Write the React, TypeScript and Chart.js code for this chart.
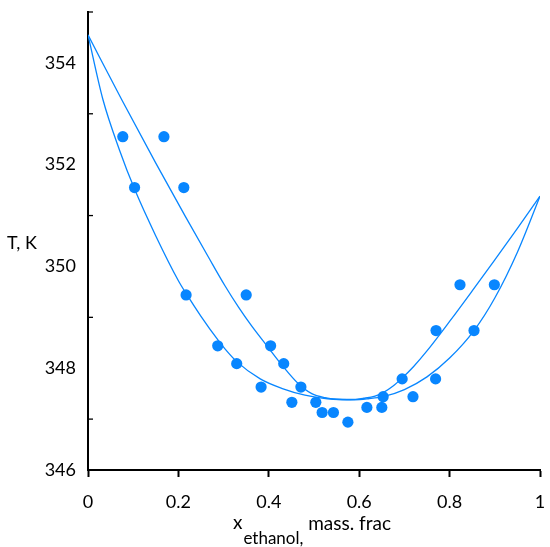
import React, { useEffect, useRef } from "react";
import { Chart, registerables } from "chart.js";

Chart.register(...registerables);

// Experimental points (mass fraction of ethanol, temperature in K)
const pointX = [
  0.077, 0.168, 0.103, 0.212, 0.217, 0.350, 0.287, 0.404, 0.329, 0.433,
  0.383, 0.471, 0.451, 0.504, 0.518, 0.543, 0.575, 0.617, 0.650, 0.653,
  0.719, 0.695, 0.769, 0.770, 0.854, 0.823, 0.899,
];
const pointT = [
  352.55, 352.55, 351.55, 351.55, 349.44, 349.44, 348.44, 348.44, 348.09, 348.09,
  347.63, 347.63, 347.33, 347.33, 347.13, 347.13, 346.94, 347.23, 347.23, 347.44,
  347.44, 347.79, 347.79, 348.74, 348.74, 349.64, 349.64,
];

// Lower-left curve
const curveAX = [
  0, 0.033, 0.07, 0.103, 0.15, 0.2, 0.217, 0.25, 0.287, 0.303, 0.329, 0.381,
  0.43, 0.48, 0.53, 0.59, 0.62, 0.653, 0.70, 0.75, 0.80, 0.854, 0.90, 0.95, 1,
];
const curveAT = [
  354.55, 353.28, 352.28, 351.52, 350.6, 349.72, 349.47, 349.02, 348.56,
  348.38, 348.13, 347.79, 347.6, 347.47, 347.4, 347.38, 347.4, 347.44,
  347.58, 347.83, 348.2, 348.74, 349.38, 350.28, 351.38,
];

// Upper-left curve
const curveBX = [
  0, 0.075, 0.15, 0.215, 0.266, 0.303, 0.333, 0.362, 0.395, 0.432, 0.465,
  0.495, 0.524, 0.55, 0.58, 0.61, 0.635, 0.653, 0.675, 0.694, 0.72, 0.749,
  0.80, 0.85, 0.90, 0.95, 1,
];
const curveBT = [
  354.55, 353.27, 352.03, 350.99, 350.19, 349.62, 349.2, 348.83, 348.45,
  348.03, 347.7, 347.5, 347.42, 347.39, 347.385, 347.41, 347.45, 347.52,
  347.65, 347.8, 348.03, 348.33, 348.92, 349.52, 350.13, 350.75, 351.38,
];

const BLUE = "rgb(8,134,255)";
const FONT = "Lato";

const decorPlugin = {
  id: "decor",
  afterDraw(chart: any) {
    const { ctx, chartArea, scales } = chart;
    const y = scales.y;
    ctx.save();
    // inward minor ticks on the y axis (odd values)
    ctx.strokeStyle = "#000";
    ctx.lineWidth = 1.3;
    y.ticks.forEach((t: any) => {
      if (Math.round(t.value) % 2 !== 0) {
        const py = y.getPixelForValue(t.value);
        ctx.beginPath();
        ctx.moveTo(chartArea.left, py);
        ctx.lineTo(chartArea.left + 5, py);
        ctx.stroke();
      }
    });
    // y title
    ctx.fillStyle = "#000";
    ctx.textBaseline = "middle";
    ctx.textAlign = "left";
    ctx.font = `18px ${FONT}`;
    ctx.fillText("T, K", 7, (chartArea.top + chartArea.bottom) / 2 + 2);
    // x title with subscript
    const big = `19px ${FONT}`;
    const small = `17px ${FONT}`;
    ctx.textBaseline = "alphabetic";
    ctx.font = big;
    const w1 = ctx.measureText("x").width;
    const w3 = ctx.measureText(" mass. frac").width;
    ctx.font = small;
    const w2 = ctx.measureText("ethanol,").width;
    const total = w1 + 1 + w2 + w3;
    let sx = (chartArea.left + chartArea.right) / 2 - 2 - total / 2;
    ctx.font = big;
    ctx.fillText("x", sx, 529);
    sx += w1 + 1;
    ctx.font = small;
    ctx.fillText("ethanol,", sx, 544);
    sx += w2;
    ctx.font = big;
    ctx.fillText(" mass. frac", sx, 530);
    ctx.restore();
  },
};

export default function App() {
  const ref = useRef<HTMLCanvasElement | null>(null);
  useEffect(() => {
    if (!ref.current) return;
    const toXY = (xs: number[], ys: number[]) => xs.map((x, i) => ({ x, y: ys[i] }));
    const chart = new Chart(ref.current, {
      type: "scatter",
      data: {
        datasets: [
          {
            type: "line",
            data: toXY(curveAX, curveAT),
            borderColor: BLUE,
            borderWidth: 1.3,
            pointRadius: 0,
            fill: false,
            cubicInterpolationMode: "monotone",
          } as any,
          {
            type: "line",
            data: toXY(curveBX, curveBT),
            borderColor: BLUE,
            borderWidth: 1.3,
            pointRadius: 0,
            fill: false,
            cubicInterpolationMode: "monotone",
          } as any,
          {
            type: "scatter",
            data: toXY(pointX, pointT),
            backgroundColor: BLUE,
            borderWidth: 0,
            pointRadius: 5.6,
          },
        ],
      },
      options: {
        animation: false,
        responsive: false,
        devicePixelRatio: 1,
        layout: { padding: { left: 8, right: 10, top: 12, bottom: 0 } },
        plugins: { legend: { display: false }, tooltip: { enabled: false } },
        scales: {
          x: {
            type: "linear",
            min: 0,
            max: 1,
            afterFit: (s: any) => {
              s.height = 77;
              s.paddingLeft = 0;
              s.paddingRight = 0;
            },
            ticks: {
              stepSize: 0.2,
              color: "#000",
              font: { family: FONT, size: 18 },
              padding: 14,
              maxRotation: 0,
              autoSkip: false,
              callback: (v: any) => String(Math.round(Number(v) * 10) / 10),
            },
            grid: {
              display: true,
              drawOnChartArea: false,
              drawTicks: true,
              tickLength: 7,
              tickColor: "#000",
              tickWidth: 2,
              color: "rgba(0,0,0,0)",
            },
            border: { display: true, color: "#000", width: 2 },
          },
          y: {
            type: "linear",
            min: 346,
            max: 355,
            afterFit: (s: any) => {
              s.width = 80;
              s.paddingTop = 0;
              s.paddingBottom = 0;
            },
            ticks: {
              stepSize: 1,
              autoSkip: false,
              color: "#000",
              font: { family: FONT, size: 18 },
              padding: 12,
              callback: (v: any) => (Math.round(Number(v)) % 2 === 0 ? String(v) : ""),
            },
            grid: { display: false, drawTicks: false },
            border: { display: true, color: "#000", width: 2 },
          },
        },
      },
      plugins: [decorPlugin],
    });
    return () => chart.destroy();
  }, []);
  return (
    <div style={{ position: "fixed", left: 0, top: 0, width: 550, height: 547, background: "#fff" }}>
      <canvas ref={ref} width={550} height={547} style={{ width: 550, height: 547 }} />
    </div>
  );
}
